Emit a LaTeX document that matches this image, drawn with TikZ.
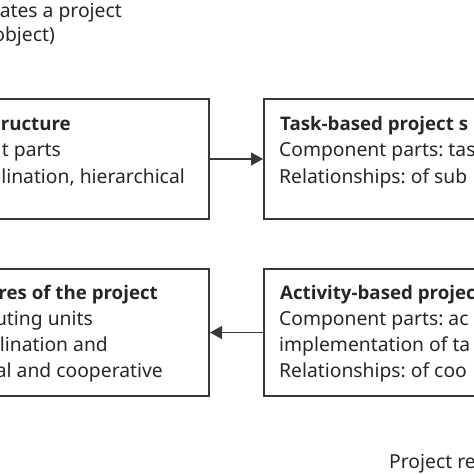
\documentclass[tikz,border=0pt]{standalone}
\usepackage{fontspec}
\setmainfont{Noto Sans}
\newfontfamily\headfont{Open Sans}
\usetikzlibrary{arrows.meta}
\definecolor{txt}{HTML}{262626}
\definecolor{ln}{HTML}{383838}
\frenchspacing
\tikzset{
  boxnode/.style={draw=ln, line width=1.6pt, rectangle, inner sep=0pt, minimum width=320pt},
  lineW/.style={anchor=base west, inner sep=0pt, text=txt, font=\fontsize{19.3}{26}\selectfont},
  lineE/.style={anchor=base east, inner sep=0pt, text=txt, font=\fontsize{19.3}{26}\selectfont},
  headW/.style={lineW, font=\fontsize{18.7}{26}\selectfont\headfont\bfseries},
  headE/.style={lineE, font=\fontsize{18.7}{26}\selectfont\headfont\bfseries},
  arr/.style={draw=ln, line width=1.4pt, -{Triangle[length=12pt,width=13pt]}}
}
\begin{document}
\begin{tikzpicture}[x=1pt,y=-1pt]
\useasboundingbox (0,0) rectangle (474,474);
\clip (0,0) rectangle (474,474);
% top text
\node[lineE] (t1) at (122,17.5) {ates a project};
\node[lineE] (t2) at (55,41) {object)};
% boxes
\node[boxnode, minimum height=120pt, anchor=east] (tl) at (210,159) {};
\node[boxnode, minimum height=120pt, anchor=west] (tr) at (263,159) {};
\node[boxnode, minimum height=127pt, anchor=east] (bl) at (210,332.5) {};
\node[boxnode, minimum height=127pt, anchor=west] (br) at (263,332.5) {};
% arrows
\draw[arr] (tl.east) -- (tr.west);
\draw[arr] (br.west) -- (bl.east);
% top-left text
\node[headE] (tl1) at (71,130) {ructure};
\node[lineE] (tl2) at (61,156.5) {t parts};
\node[lineE] (tl3) at (185,183) {lination, hierarchical};
% top-right text
\node[headW] (tr1) at (280,130) {Task-based project s};
\node[lineW] (tr2) at (279,156.5) {Component parts: tas};
\node[lineW] (tr3) at (279,183) {Relationships: of sub};
% bottom-left text
\node[headE] (bl1) at (158,299) {res of the project};
\node[lineE] (bl2) at (93,325) {uting units};
\node[lineE] (bl3) at (108,351) {lination and};
\node[lineE] (bl4) at (163,377) {al and cooperative};
% bottom-right text
\node[headW] (br1) at (280,299) {Activity-based projec};
\node[lineW] (br2) at (279,325) {Component parts: ac};
\node[lineW] (br3) at (279,351) {implementation of ta};
\node[lineW] (br4) at (279,377) {Relationships: of coo};
% bottom text
\node[lineW] (b1) at (389,468.5) {Project re};
\end{tikzpicture}
\end{document}
